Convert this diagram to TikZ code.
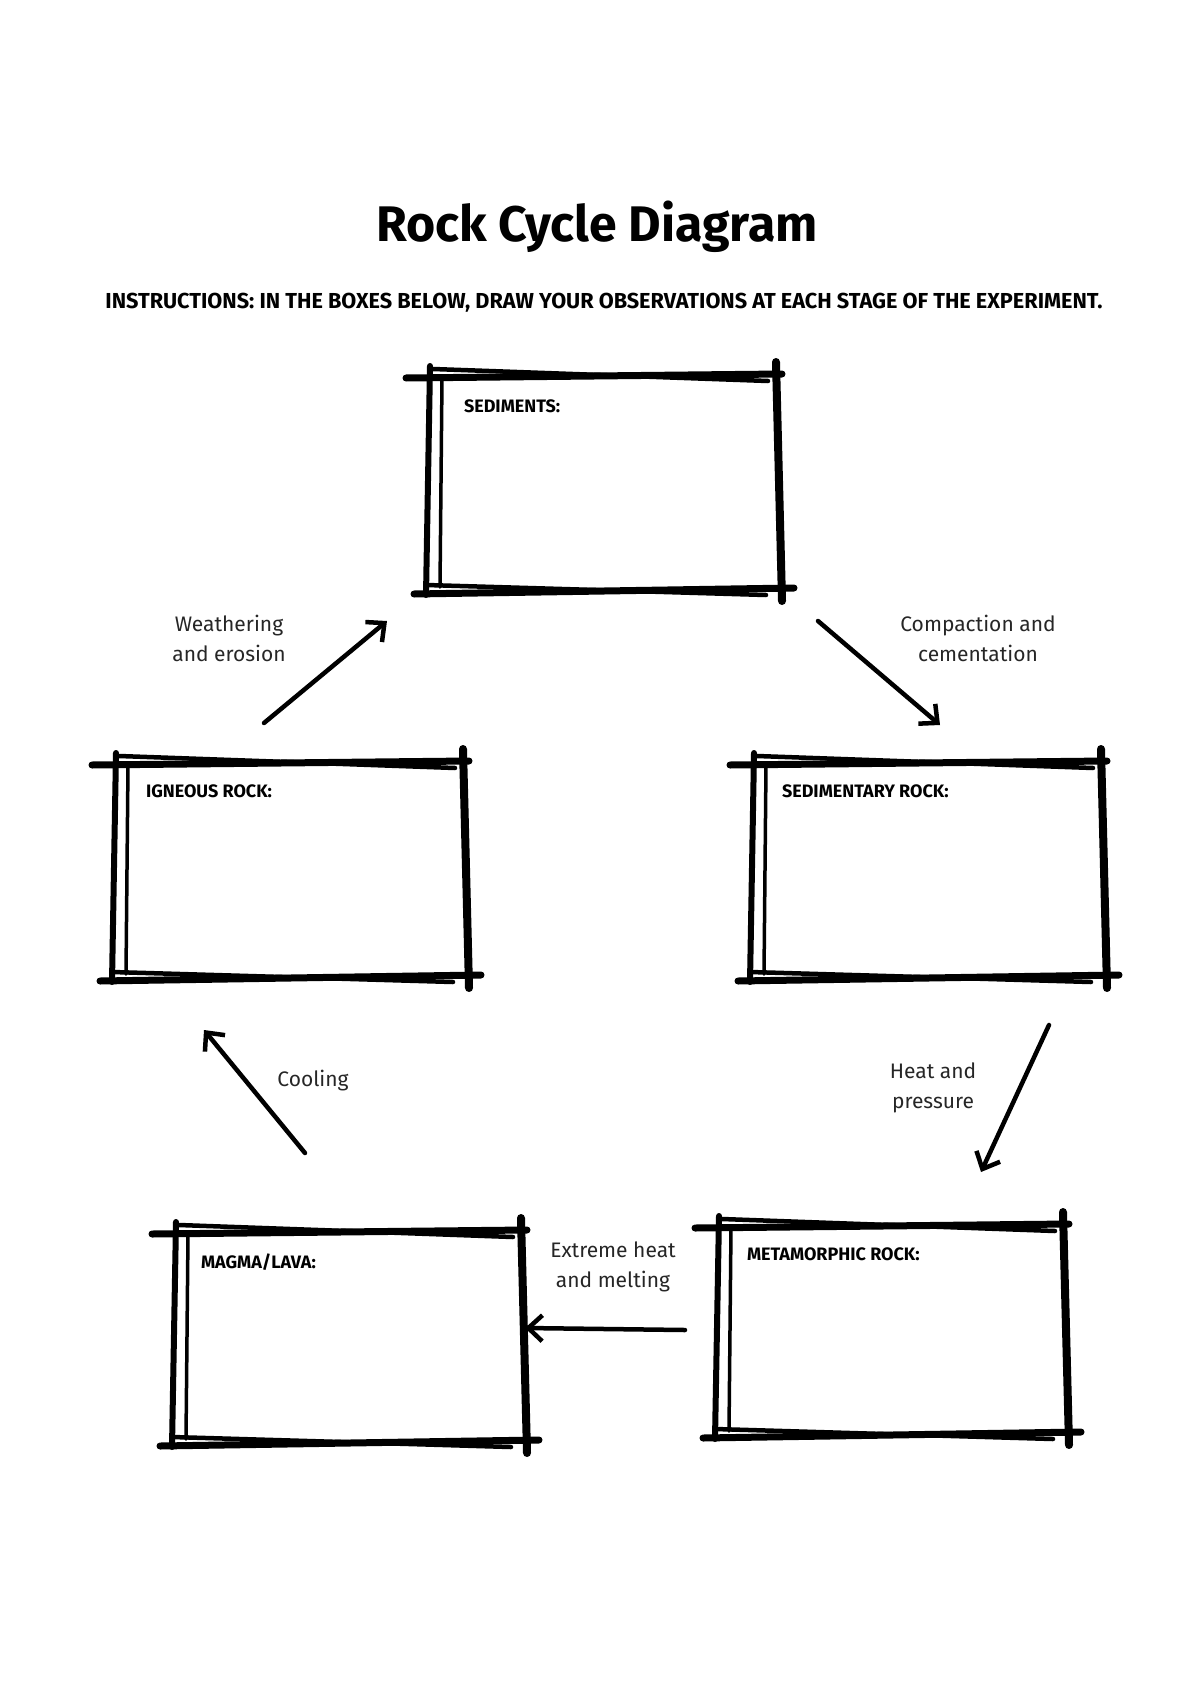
\documentclass[tikz,border=0pt]{standalone}
\usepackage{fontspec}
\setmainfont{Fira Sans}
\newfontfamily\titlefont{Fira Sans}
\usetikzlibrary{arrows.meta}
\tikzset{
 sk/.style={line width=#1, line cap=round, black},
 sk/.default=4pt,
 lab/.style={font=\fontsize{21}{30}\selectfont\fontseries{l}\selectfont, text=black!85, align=center},
 boxlab/.style={font=\fontsize{18}{20}\selectfont\bfseries, anchor=north west, inner sep=0pt},
 flow/.style={line width=4.5pt, line cap=round, -{Straight Barb[length=14pt,width=26pt,line width=4.5pt]}}
}
\newcommand\sketchbox[5]{%
 \node[minimum width=#3-#1, minimum height=#4-#2, inner sep=0pt] (#5) at ({(#1+#3)/2},{(#2+#4)/2}) {};
 \draw[sk=7pt] (#1-22,#2+2) -- (#3+6,#2-2);
 \draw[sk=4.5pt] (#1+5,#2-7) -- (#3-8,#2+5);
 \draw[sk=7pt] (#1-14,#4+5) -- (#3+18,#4-1);
 \draw[sk=4.5pt] (#1-2,#4-4) -- (#3-10,#4+6);
 \draw[sk=6pt] (#1+2,#2-10) -- (#1-2,#4+6);
 \draw[sk=3.5pt] (#1+14,#2+2) -- (#1+12,#4-2);
 \draw[sk=8pt] (#3,#2-14) -- (#3+6,#4+12);
}
\begin{document}
\begin{tikzpicture}[x=1pt,y=-1pt]
\useasboundingbox[fill=white] (0,0) rectangle (1200,1696);
\node[font=\titlefont\fontsize{50}{54}\selectfont\bfseries] (title) at (597,227) {Rock Cycle Diagram};
\node (instr) at (604,303) {\resizebox{997pt}{!}{\bfseries INSTRUCTIONS: IN THE BOXES BELOW, DRAW YOUR OBSERVATIONS AT EACH STAGE OF THE EXPERIMENT.}};
\sketchbox{428}{376}{776}{589}{sed}
\sketchbox{114}{763}{463}{976}{ign}
\sketchbox{752}{763}{1101}{976}{sry}
\sketchbox{174}{1232}{521}{1441}{mag}
\sketchbox{717}{1226}{1063}{1433}{met}
\node[boxlab] (l1) at ([xshift=36pt,yshift=-24pt]sed.north west) {SEDIMENTS:};
\node[boxlab] (l2) at ([xshift=32pt,yshift=-22pt]ign.north west) {IGNEOUS ROCK:};
\node[boxlab] (l3) at ([xshift=30pt,yshift=-22pt]sry.north west) {SEDIMENTARY ROCK:};
\node[boxlab] (l4) at ([xshift=27pt,yshift=-22pt]mag.north west) {MAGMA/LAVA:};
\node[boxlab] (l5) at ([xshift=30pt,yshift=-22pt]met.north west) {METAMORPHIC ROCK:};
\coordinate (a1) at (264,723); \coordinate (b1) at (387,621);
\coordinate (a2) at (818,621); \coordinate (b2) at (940,725);
\coordinate (a3) at (1049,1025); \coordinate (b3) at (981,1172);
\coordinate (a4) at (685,1330); \coordinate (b4) at (525,1328);
\coordinate (a5) at (305,1153); \coordinate (b5) at (204,1030);
\draw[flow] (a1) -- (b1);
\draw[flow] (a2) -- (b2);
\draw[flow] (a3) -- (b3);
\draw[flow] (a4) -- (b4);
\draw[flow] (a5) -- (b5);
\node[lab] (t1) at (229,638) {Weathering\\and erosion};
\node[lab] (t2) at (978,638) {Compaction and\\cementation};
\node[lab] (t3) at (933,1088) {Heat and\\pressure};
\node[lab] (t4) at (613,1267) {Extreme heat\\and melting};
\node[lab] (t5) at (313,1081) {Cooling};
\end{tikzpicture}
\end{document}
